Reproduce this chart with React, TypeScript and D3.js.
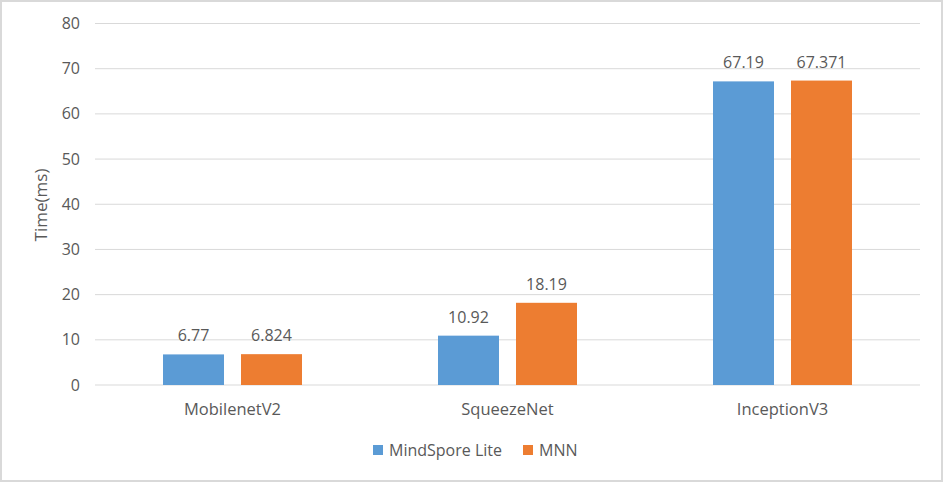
import React from "react";
import * as d3 from "d3";

const categories = ["MobilenetV2", "SqueezeNet", "InceptionV3"];
const seriesNames = ["MindSpore Lite", "MNN"];
const mindsporeLite = [6.77, 10.92, 67.19];
const mnn = [6.824, 18.19, 67.371];
const valueLabels = [
  ["6.77", "10.92", "67.19"],
  ["6.824", "18.19", "67.371"],
];
const yTicks = [0, 10, 20, 30, 40, 50, 60, 70, 80];
const colors = ["#5B9BD5", "#ED7D31"];

const W = 943;
const H = 482;
const FONT = "'Open Sans', 'DejaVu Sans', sans-serif";
const TEXT = "#595959";

export default function App() {
  const left = 95;
  const right = 920;
  const top = 23.5;
  const bottom = 385;

  const x = d3.scaleBand<string>().domain(categories).range([left, right]);
  const y = d3.scaleLinear().domain([0, 80]).range([bottom, top]);
  const barW = 61;
  const gap = 17;
  const series = [mindsporeLite, mnn];

  return (
    <svg
      width={W}
      height={H}
      style={{ position: "absolute", left: 0, top: 0, display: "block" }}
      fontFamily={FONT}
    >
      <rect x={1} y={1} width={W - 2} height={H - 2} fill="#fff" stroke="#D9D9D9" strokeWidth={2} />
      {yTicks.map((t) => (
        <g key={t}>
          <line x1={left} x2={right} y1={y(t)} y2={y(t)} stroke="#D9D9D9" strokeWidth={1} />
          <text x={80} y={y(t)} dy="0.35em" textAnchor="end" fontSize={16} fill={TEXT}>
            {t}
          </text>
        </g>
      ))}
      {categories.map((c, i) => {
        const cx = (x(c) as number) + x.bandwidth() / 2;
        return (
          <g key={c}>
            {series.map((vals, s) => {
              const bx = s === 0 ? cx - gap / 2 - barW : cx + gap / 2;
              const v = vals[i];
              return (
                <g key={s}>
                  <rect x={bx} y={y(v)} width={barW} height={bottom - y(v)} fill={colors[s]} />
                  <text
                    x={bx + barW / 2}
                    y={y(v) - 13}
                    textAnchor="middle"
                    fontSize={16}
                    fill={TEXT}
                  >
                    {valueLabels[s][i]}
                  </text>
                </g>
              );
            })}
            <text x={cx} y={415} textAnchor="middle" fontSize={16.5} fill={TEXT}>
              {c}
            </text>
          </g>
        );
      })}
      <text
        transform={`translate(47,205) rotate(-90)`}
        textAnchor="middle"
        fontSize={17}
        fill={TEXT}
      >
        Time(ms)
      </text>
      <g>
        <rect x={373} y={445} width={10} height={10} fill={colors[0]} />
        <text x={389} y={450} dy="0.35em" fontSize={16} fill={TEXT}>
          {seriesNames[0]}
        </text>
        <rect x={523} y={445} width={10} height={10} fill={colors[1]} />
        <text x={539} y={450} dy="0.35em" fontSize={16} fill={TEXT}>
          {seriesNames[1]}
        </text>
      </g>
    </svg>
  );
}
